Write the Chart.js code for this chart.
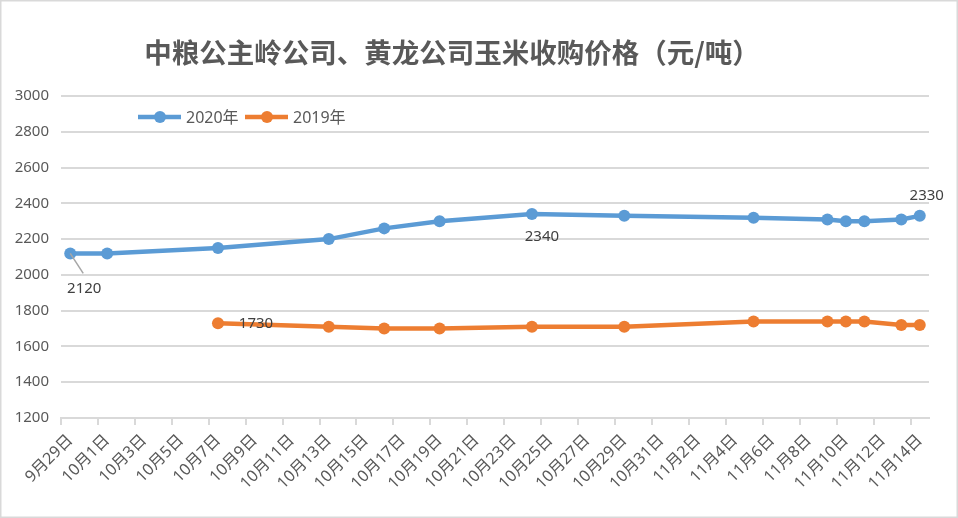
<!DOCTYPE html>
<html>
<head>
<meta charset="utf-8">
<title>玉米收购价格</title>
<script src="https://cdn.jsdelivr.net/npm/chart.js@4/dist/chart.umd.min.js"></script>
<style>
  html, body { margin: 0; padding: 0; background: #fff; }
  #chart { display: block; }
</style>
</head>
<body>
<canvas id="chart" width="958" height="518"></canvas>
<script>
// ---- data ----
const days = [
  '9月29日', '9月30日',
  '10月1日', '10月2日', '10月3日', '10月4日', '10月5日', '10月6日', '10月7日', '10月8日',
  '10月9日', '10月10日', '10月11日', '10月12日', '10月13日', '10月14日', '10月15日', '10月16日',
  '10月17日', '10月18日', '10月19日', '10月20日', '10月21日', '10月22日', '10月23日', '10月24日',
  '10月25日', '10月26日', '10月27日', '10月28日', '10月29日', '10月30日', '10月31日',
  '11月1日', '11月2日', '11月3日', '11月4日', '11月5日', '11月6日', '11月7日', '11月8日',
  '11月9日', '11月10日', '11月11日', '11月12日', '11月13日', '11月14日'
];

const dates2020 = ['9月29日', '10月1日', '10月7日', '10月13日', '10月16日', '10月19日', '10月24日',
  '10月29日', '11月5日', '11月9日', '11月10日', '11月11日', '11月13日', '11月14日'];
const price2020 = [2120, 2120, 2150, 2200, 2260, 2300, 2340, 2330, 2320, 2310, 2300, 2300, 2310, 2330];

const dates2019 = ['10月7日', '10月13日', '10月16日', '10月19日', '10月24日', '10月29日',
  '11月5日', '11月9日', '11月10日', '11月11日', '11月13日', '11月14日'];
const price2019 = [1730, 1710, 1700, 1700, 1710, 1710, 1740, 1740, 1740, 1740, 1720, 1720];

const seriesNames = ['2020年', '2019年'];
const yMin = 1200, yMax = 3000, yStep = 200;

const titleText = '中粮公主岭公司、黄龙公司玉米收购价格（元/吨）';

// which points carry a value label: [series, date]
const labelled = [
  [0, '9月29日'],
  [0, '10月24日'],
  [0, '11月14日'],
  [1, '10月7日']
];

// ---- styling ----
const BLUE = '#5b9bd5';
const ORANGE = '#ed7d31';
const GRID = '#d9d9d9';
const TEXT = '#595959';
const FONT = '"Noto Sans", "Noto Sans CJK SC", sans-serif';

// label offsets from the point (dx, dy) and optional leader line end
const labelStyle = {
  '0|9月29日': { dx: 14, dy: 35, leader: [13, 20] },
  '0|10月24日': { dx: 10, dy: 23 },
  '0|11月14日': { dx: 7, dy: -20 },
  '1|10月7日': { dx: 38, dy: 1 }
};

const toPoints = (dates, vals) => dates.map((d, i) => ({ x: d, y: vals[i] }));

const decorations = {
  id: 'decorations',
  beforeDraw(chart) {
    const c = chart.ctx;
    c.save();
    c.fillStyle = '#fff';
    c.fillRect(0, 0, chart.width, chart.height);
    c.strokeStyle = GRID;
    c.lineWidth = 1.5;
    c.strokeRect(0.75, 0.75, chart.width - 1.5, chart.height - 1.5);
    c.restore();
  },
  afterDraw(chart) {
    const c = chart.ctx;
    c.save();

    // title
    c.fillStyle = TEXT;
    c.font = 'bold 27.5px "Noto Sans CJK SC", sans-serif';
    c.textAlign = 'center';
    c.textBaseline = 'middle';
    c.fillText(titleText, 452, 53);

    // legend (line + dot samples)
    const legendItems = [
      { x: 138, color: BLUE, text: seriesNames[0] },
      { x: 245, color: ORANGE, text: seriesNames[1] }
    ];
    legendItems.forEach(it => {
      c.strokeStyle = it.color;
      c.lineWidth = 4.5;
      c.beginPath();
      c.moveTo(it.x, 117);
      c.lineTo(it.x + 43, 117);
      c.stroke();
      c.fillStyle = it.color;
      c.beginPath();
      c.arc(it.x + 22, 117, 6, 0, Math.PI * 2);
      c.fill();
      c.fillStyle = TEXT;
      c.font = '16px ' + FONT;
      c.textAlign = 'left';
      c.textBaseline = 'middle';
      c.fillText(it.text, it.x + 48, 118);
    });

    // value labels
    labelled.forEach(([s, date]) => {
      const ds = chart.data.datasets[s];
      const idx = ds.data.findIndex(p => p.x === date);
      const el = chart.getDatasetMeta(s).data[idx];
      if (!el) return;
      const st = labelStyle[s + '|' + date];
      if (st.leader) {
        c.strokeStyle = '#a6a6a6';
        c.lineWidth = 1.5;
        c.beginPath();
        c.moveTo(el.x, el.y);
        c.lineTo(el.x + st.leader[0], el.y + st.leader[1]);
        c.stroke();
      }
      c.fillStyle = '#404040';
      c.font = '15px ' + FONT;
      c.textAlign = 'center';
      c.textBaseline = 'middle';
      c.fillText(String(ds.data[idx].y), el.x + st.dx, el.y + st.dy);
    });

    c.restore();
  }
};

const lineSet = (label, data, color) => ({
  label,
  data,
  borderColor: color,
  backgroundColor: color,
  borderWidth: 4.5,
  pointRadius: 6,
  pointHoverRadius: 6,
  pointBorderWidth: 0,
  pointBackgroundColor: color,
  tension: 0
});

new Chart(document.getElementById('chart'), {
  type: 'line',
  data: {
    labels: days,
    datasets: [
      lineSet(seriesNames[0], toPoints(dates2020, price2020), BLUE),
      lineSet(seriesNames[1], toPoints(dates2019, price2019), ORANGE)
    ]
  },
  options: {
    responsive: false,
    devicePixelRatio: 1,
    animation: false,
    layout: { padding: { top: 96, right: 29, left: 0, bottom: 0 } },
    plugins: {
      legend: { display: false },
      title: { display: false },
      tooltip: { enabled: false }
    },
    scales: {
      x: {
        type: 'category',
        offset: true,
        grid: {
          offset: true,
          drawOnChartArea: false,
          drawTicks: true,
          tickLength: 7,
          lineWidth: 2,
          color: ctx => (ctx.index % 2 === 0 ? GRID : 'rgba(0,0,0,0)')
        },
        border: { display: true, color: GRID, width: 2 },
        ticks: {
          autoSkip: false,
          minRotation: 45,
          maxRotation: 45,
          padding: 6,
          color: TEXT,
          font: { family: FONT, size: 16 },
          callback: (v, i) => (i % 2 === 0 ? days[i] : '')
        },
        afterFit: s => { s.height = 100; }
      },
      y: {
        min: yMin,
        max: yMax,
        grid: { color: GRID, lineWidth: 2, drawTicks: false },
        border: { display: false },
        ticks: {
          stepSize: yStep,
          padding: 12,
          color: TEXT,
          font: { family: FONT, size: 15 },
          callback: v => String(v)
        },
        afterFit: s => { s.width = 61; }
      }
    }
  },
  plugins: [decorations]
});
</script>
</body>
</html>
